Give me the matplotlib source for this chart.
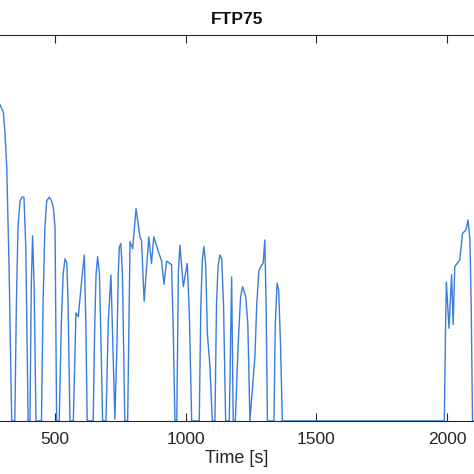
import matplotlib
matplotlib.use("Agg")
import matplotlib.pyplot as plt

time_s = [250, 289, 302, 308, 315, 324, 334,
          346, 352, 358, 366, 374, 381, 388, 397,
          404, 409, 414, 420, 427,
          448, 454, 461, 468, 478, 487, 494, 500, 506,
          516, 524, 531, 538, 545, 550, 557,
          570, 580, 589, 602, 612, 618, 623,
          646, 652, 657, 663, 670, 676, 682,
          695, 704, 714, 721, 729,
          737, 742, 746, 752, 758, 767,
          778, 787, 797, 810, 816, 825, 831, 841, 859, 869, 878, 895, 908, 917, 927, 946, 952, 959,
          966, 972, 978, 991, 1006, 1014, 1023,
          1052, 1058, 1064, 1070, 1077, 1083, 1093, 1102,
          1112, 1118, 1124, 1131, 1138, 1145, 1153,
          1167, 1176, 1182,
          1190, 1201, 1210, 1218, 1230, 1238, 1246,
          1265, 1272, 1280, 1297, 1303, 1308, 1313,
          1338, 1343, 1350, 1356, 1363, 1370,
          1990, 1995, 1998, 2008, 2018, 2024, 2030, 2049, 2060, 2073, 2081, 2088, 2093, 2098, 2140]
speed = [82, 82, 80, 75, 66, 40, 0,
         0, 30, 50, 57, 58, 58, 45, 0,
         0, 35, 48, 35, 0,
         0, 30, 50, 57, 58, 57, 55, 50, 0,
         0, 25, 38, 42, 41, 30, 0,
         0, 28, 27, 36.5, 43, 25, 0,
         0, 25, 38, 42.6, 38, 20, 0,
         0, 26, 37.8, 20, 0.5,
         20, 38, 45, 46, 38, 0,
         0, 46.5, 44.6, 55, 52, 47.7, 46.8, 31, 47.7, 40.8, 47.7, 44, 41.4, 35.4, 41.4, 40.5, 25, 0,
         0, 38, 45.6, 34.8, 40.8, 28, 0,
         0, 30, 42, 45.2, 40, 22.7, 14, 0,
         0, 30, 40, 43, 42, 30, 0,
         0, 37.3, 0,
         0, 20, 32, 34.8, 32.2, 25, 0,
         16.6, 30, 39, 41, 46.9, 30, 0,
         0, 25, 35.7, 34, 20, 0,
         0, 25, 36, 24, 37.9, 25, 40, 41.7, 48.6, 49.5, 52.1, 47, 30, 0, 0]

plt.rcParams['font.family'] = ['Liberation Sans', 'DejaVu Sans']
fig = plt.figure(figsize=(4.74, 4.74), dpi=100)
ax = fig.add_axes([-0.02, 0.112, 1.04, 0.814])
ax.plot(time_s, speed, color='#3a7ddb', lw=1.0)
ax.set_xlim(253, 2140)
ax.set_ylim(0, 100)
ax.set_xticks([500, 1000, 1500, 2000])
ax.set_yticks([])
ax.tick_params(axis='x', direction='in', top=True, length=6, labelsize=12.5,
               colors='#262626', pad=8)
for s in ax.spines.values():
    s.set_color('#262626')
    s.set_linewidth(0.8)
ax.set_title('FTP75', fontsize=12.5, fontweight='bold', color='#111111', pad=8)
ax.set_xlabel('Time [s]', fontsize=13, color='#262626', labelpad=2)
fig.savefig('out.png', dpi=100)
